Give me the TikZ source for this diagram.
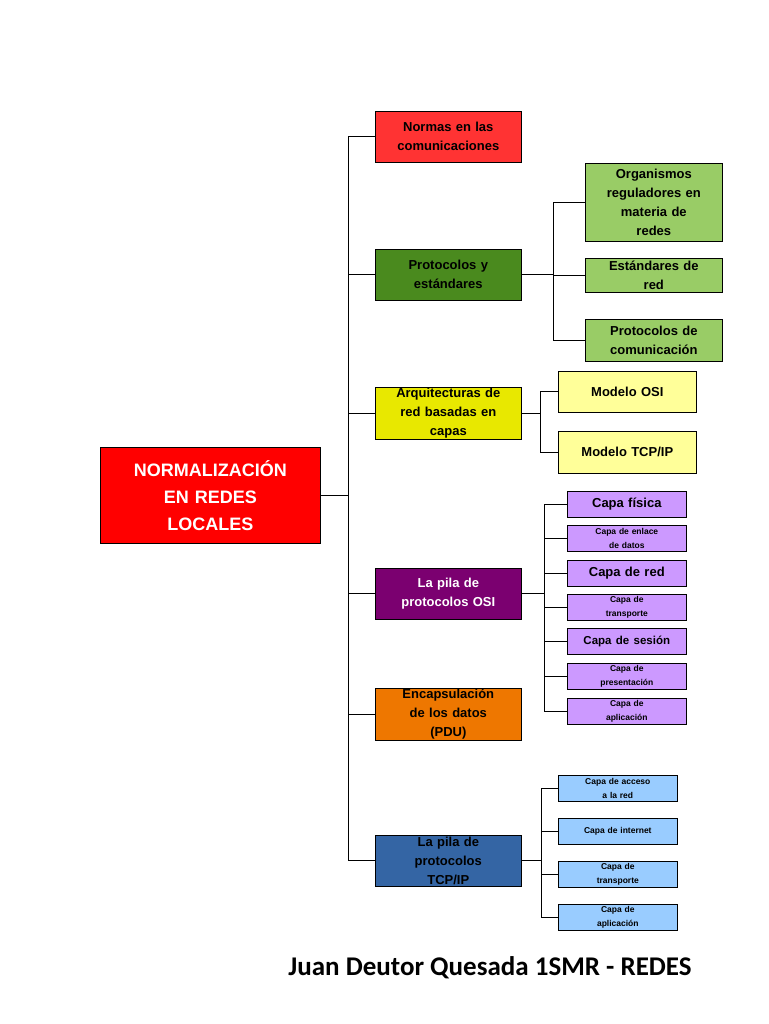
\documentclass[tikz,border=0pt]{standalone}
\usepackage{fontspec}
\setmainfont{Liberation Sans}
\newfontfamily\footfont{Carlito}
\begin{document}
\begin{tikzpicture}[x=1pt,y=-1pt,
 box/.style={draw=black,line width=0.6pt,anchor=north west,align=center,font=\bfseries,inner sep=1pt},
 big/.style={font=\fontsize{13}{19}\selectfont\bfseries},
 sml/.style={font=\fontsize{8.5}{13.5}\selectfont\bfseries},
 ln/.style={line width=0.7pt}]
\useasboundingbox (0,0) rectangle (768,1024);
\definecolor{cR}{HTML}{FF3333}\definecolor{cG}{HTML}{4A8A1E}\definecolor{cY}{HTML}{E8E800}
\definecolor{cP}{HTML}{7B0070}\definecolor{cO}{HTML}{EE7700}\definecolor{cB}{HTML}{3465A4}
\definecolor{lG}{HTML}{99CC66}\definecolor{lY}{HTML}{FFFF99}\definecolor{lP}{HTML}{CC99FF}\definecolor{lB}{HTML}{99CCFF}
\node[box,fill=red,text=white,minimum width=220,minimum height=96,text width=210,font=\fontsize{18}{27}\selectfont\bfseries] (main) at (100,447) {NORMALIZACIÓN\\EN REDES\\LOCALES};
\foreach \n/\y/\c/\t/\tc in {norm/111/cR/{Normas en las\\comunicaciones}/black, prot/249/cG/{Protocolos y\\estándares}/black, arq/387/cY/{Arquitecturas de\\red basadas en\\capas}/black, osi/568/cP/{La pila de\\protocolos OSI}/white, enc/688/cO/{Encapsulación\\de los datos\\(PDU)}/black, tcp/835/cB/{La pila de\\protocolos\\TCP/IP}/black}
 \node[box,big,fill=\c,text=\tc,minimum width=146,minimum height=51,text width=140] (\n) at (375,\y) {\t};
% green
\node[box,big,fill=lG,minimum width=137,minimum height=78,text width=130] (g1) at (585,163) {Organismos\\reguladores en\\materia de\\redes};
\node[box,big,fill=lG,minimum width=137,minimum height=34,text width=130] (g2) at (585,258) {Estándares de\\red};
\node[box,big,fill=lG,minimum width=137,minimum height=42,text width=130] (g3) at (585,319) {Protocolos de\\comunicación};
% yellow
\node[box,big,fill=lY,minimum width=138,minimum height=41,text width=130] (y1) at (558,371) {Modelo OSI};
\node[box,big,fill=lY,minimum width=138,minimum height=42,text width=130] (y2) at (558,431) {Modelo TCP/IP};
% purple
\foreach \n/\y/\s/\t in {p1/491/big/{Capa física}, p2/525/sml/{Capa de enlace\\de datos}, p3/560/big/{Capa de red}, p4/594/sml/{Capa de\\transporte}, p5/628/big/{\fontsize{11.5}{14}\selectfont Capa de sesión}, p6/663/sml/{Capa de\\presentación}, p7/698/sml/{Capa de\\aplicación}}
 \node[box,\s,fill=lP,minimum width=119,minimum height=26,text width=115] (\n) at (567,\y) {\t};
% blue
\foreach \n/\y/\t in {b1/775/{Capa de acceso\\a la red}, b2/818/{Capa de internet}, b3/861/{Capa de\\transporte}, b4/904/{Capa de\\aplicación}}
 \node[box,sml,fill=lB,minimum width=119,minimum height=26,text width=115] (\n) at (558,\y) {\t};
% connectors
\coordinate (t) at (348,0);
\draw[ln] (main.east) -- (main.east -| t);
\draw[ln] (norm.west -| t) -- (tcp.west -| t);
\foreach \n in {norm,prot,arq,osi,enc,tcp} \draw[ln] (\n.west -| t) -- (\n.west);
\coordinate (tg) at (553,0);\coordinate (ty) at (540,0);\coordinate (tp) at (544,0);\coordinate (tb) at (541,0);
\draw[ln] (prot.east) -- (prot.east -| tg); \draw[ln] (g1.west -| tg) -- (g3.west -| tg);
\foreach \n in {g1,g2,g3} \draw[ln] (\n.west -| tg) -- (\n.west);
\draw[ln] (arq.east) -- (arq.east -| ty); \draw[ln] (y1.west -| ty) -- (y2.west -| ty);
\foreach \n in {y1,y2} \draw[ln] (\n.west -| ty) -- (\n.west);
\draw[ln] (osi.east) -- (osi.east -| tp); \draw[ln] (p1.west -| tp) -- (p7.west -| tp);
\foreach \n in {p1,p2,p3,p4,p5,p6,p7} \draw[ln] (\n.west -| tp) -- (\n.west);
\draw[ln] (tcp.east) -- (tcp.east -| tb); \draw[ln] (b1.west -| tb) -- (b4.west -| tb);
\foreach \n in {b1,b2,b3,b4} \draw[ln] (\n.west -| tb) -- (\n.west);
\node[font=\footfont\fontsize{27}{30}\selectfont\bfseries] (foot) at (490,968) {Juan Deutor Quesada 1SMR - REDES};
\end{tikzpicture}
\end{document}
